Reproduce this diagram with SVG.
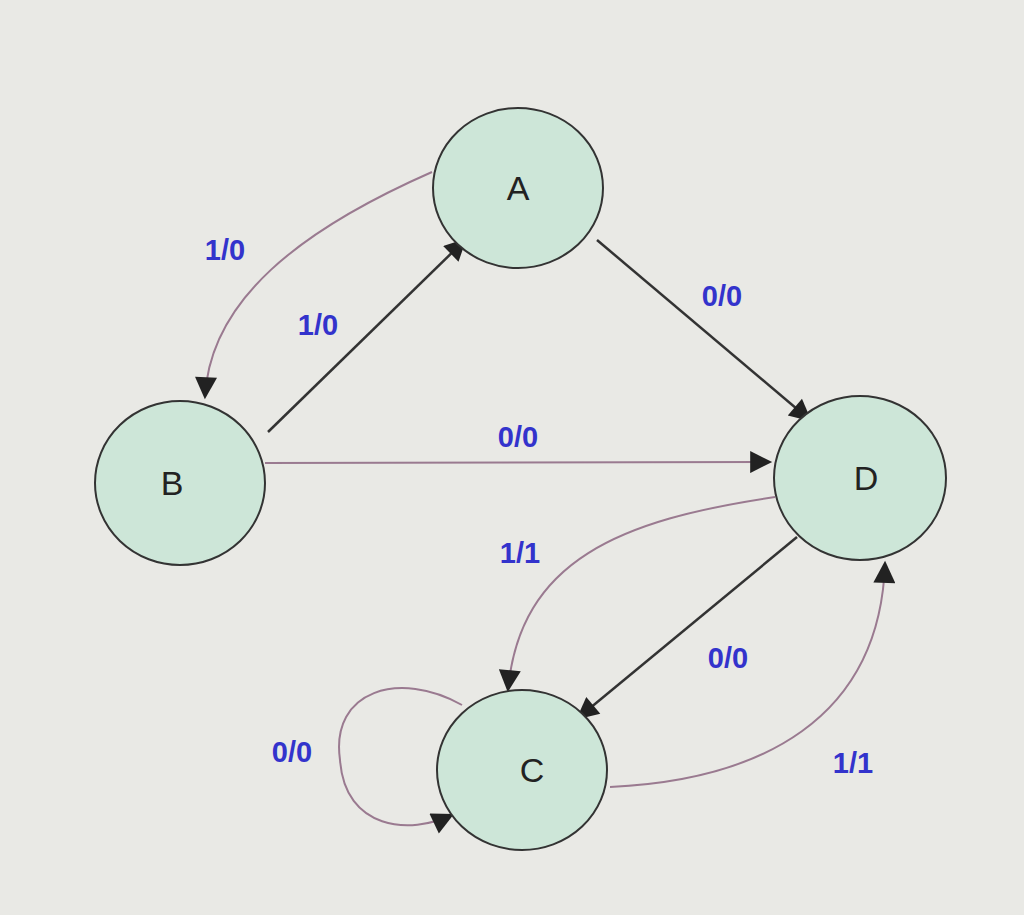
<svg xmlns="http://www.w3.org/2000/svg" width="1024" height="915" viewBox="0 0 1024 915">
<style>
.n{fill:#cde6d8;stroke:#333;stroke-width:2}
.t{font-family:"Liberation Sans",Arial,sans-serif;font-size:34px;fill:#222;text-anchor:middle}
.l{font-family:"Liberation Sans",Arial,sans-serif;font-size:29px;font-weight:bold;fill:#3333cc;text-anchor:middle}
.e{fill:none;stroke:#333;stroke-width:2.5}
.p{fill:none;stroke:#9a7a90;stroke-width:2}
</style>
<defs>
<marker id="b" viewBox="0 0 10 10" refX="9" refY="5" markerWidth="26" markerHeight="22" orient="auto" markerUnits="userSpaceOnUse"><path d="M0,0L10,5L0,10z" fill="#222"/></marker></defs>
<rect width="1024" height="915" fill="#e9e9e5"/>
<g id="connectors">
<path class="p" d="M432,172 C300,230 210,300 205,397" marker-end="url(#b)"/>
<path class="e" d="M268,432 L465,240" marker-end="url(#b)"/>
<path class="e" d="M597,240 L810,420" marker-end="url(#b)"/>
<path class="p" d="M265,463 L770,462" marker-end="url(#b)"/>
<path class="p" d="M775,497 C620,520 520,560 508,690" marker-end="url(#b)"/>
<path class="e" d="M797,537 L578,718" marker-end="url(#b)"/>
<path class="p" d="M610,787 C760,780 880,720 885,563" marker-end="url(#b)"/>
<path class="p" d="M462,705 C400,670 330,690 340,760 C345,830 410,835 452,815" marker-end="url(#b)"/>
<text class="l" x="225" y="260">1/0</text>
<text class="l" x="318" y="335">1/0</text>
<text class="l" x="722" y="306">0/0</text>
<text class="l" x="518" y="447">0/0</text>
<text class="l" x="520" y="563">1/1</text>
<text class="l" x="728" y="668">0/0</text>
<text class="l" x="853" y="773">1/1</text>
<text class="l" x="292" y="762">0/0</text>
</g>
<g id="A"><ellipse class="n" cx="518" cy="188" rx="85" ry="80"/><text class="t" x="518" y="200">A</text></g>
<g id="B"><ellipse class="n" cx="180" cy="483" rx="85" ry="82"/><text class="t" x="172" y="495">B</text></g>
<g id="D"><ellipse class="n" cx="860" cy="478" rx="86" ry="82"/><text class="t" x="866" y="490">D</text></g>
<g id="C"><ellipse class="n" cx="522" cy="770" rx="85" ry="80"/><text class="t" x="532" y="782">C</text></g>
</svg>
